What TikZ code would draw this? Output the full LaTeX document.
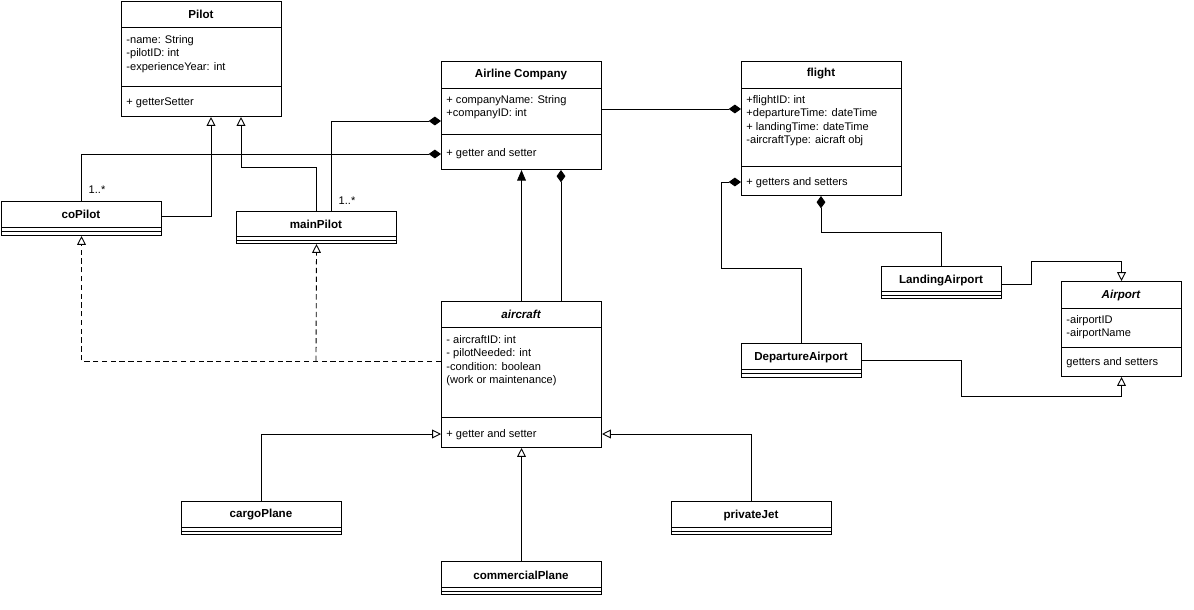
\documentclass[tikz,border=0pt]{standalone}
\usepackage{fontspec}
\setmainfont{Liberation Sans}
\usetikzlibrary{arrows.meta}
\tikzset{
	cls/.style={draw, fill=white, anchor=north west, inner sep=0pt, line width=0.6pt},
	ttl/.style={font=\fontsize{6.6}{8}\selectfont\bfseries},
	txt/.style={font=\fontsize{6.3}{7.6}\selectfont, anchor=north west, align=left, inner sep=0pt},
	inh/.style={-{Triangle[open,length=5pt,width=5pt]}},
	dep/.style={densely dashed,-{Triangle[open,length=5pt,width=5pt]}},
	comp/.style={-{Diamond[length=7pt,width=5pt]}},
	gen/.style={-{Triangle[length=6pt,width=5pt]}}
}
\begin{document}
\begin{tikzpicture}[x=0.02cm,y=-0.02cm,line width=0.5pt]
	\useasboundingbox (0,0) rectangle (1194,609);
	% classes
	\node[cls, minimum width=3.2cm, minimum height=2.3cm](Pilot) at (121,1) {};
	\node[ttl] at (201,14) {Pilot};
	\draw (121,27) -- (281,27); \draw (121,86) -- (281,86);
	\node[txt] at (126,35) {-name: String\\-pilotID: int\\-experienceYear: int};
	\node[txt] at (126,97) {+ getterSetter};

	\node[cls, minimum width=3.2cm, minimum height=2.16cm](airline) at (441,61) {};
	\node[ttl] at (521,74) {Airline Company};
	\draw (441,88) -- (601,88); \draw (441,134) -- (601,134);
	\node[txt] at (446,95) {+ companyName: String\\+companyID: int};
	\node[txt] at (446,148) {+ getter and setter};

	\node[cls, minimum width=3.2cm, minimum height=2.68cm](flight) at (741,61) {};
	\node[ttl] at (821,74) {flight};
	\draw (741,88) -- (901,88); \draw (741,166) -- (901,166);
	\node[txt] at (746,95) {+flightID: int\\+departureTime: dateTime\\+ landingTime: dateTime\\-aircraftType: aicraft obj};
	\node[txt] at (746,177) {+ getters and setters};

	\node[cls, minimum width=3.2cm, minimum height=0.68cm](coPilot) at (1,201) {};
	\node[ttl] at (81,214) {coPilot};
	\draw (1,227) -- (161,227); \draw (1,231) -- (161,231);

	\node[cls, minimum width=3.2cm, minimum height=0.64cm](mainPilot) at (236,211) {};
	\node[ttl] at (316,224) {mainPilot};
	\draw (236,236) -- (396,236); \draw (236,240) -- (396,240);

	\node[cls, minimum width=3.2cm, minimum height=2.92cm](aircraft) at (441,301) {};
	\node[ttl] at (521,314) {\itshape aircraft};
	\draw (441,327) -- (601,327); \draw (441,417) -- (601,417);
	\node[txt] at (446,335) {- aircraftID: int\\- pilotNeeded: int\\-condition: boolean\\(work or maintenance)};
	\node[txt] at (446,429) {+ getter and setter};

	\node[cls, minimum width=2.4cm, minimum height=0.64cm](landing) at (881,266) {};
	\node[ttl] at (941,281) {LandingAirport};
	\draw (881,291) -- (1001,291); \draw (881,295) -- (1001,295);

	\node[cls, minimum width=2.4cm, minimum height=1.9cm](Airport) at (1061,281) {};
	\node[ttl] at (1121,295) {\itshape Airport};
	\draw (1061,308) -- (1181,308); \draw (1061,347) -- (1181,347);
	\node[txt] at (1066,315) {-airportID\\-airportName};
	\node[txt] at (1066,357) {getters and setters};

	\node[cls, minimum width=2.4cm, minimum height=0.68cm](departure) at (741,343) {};
	\node[ttl] at (801,357) {DepartureAirport};
	\draw (741,369) -- (861,369); \draw (741,373) -- (861,373);

	\node[cls, minimum width=3.2cm, minimum height=0.66cm](cargo) at (181,501) {};
	\node[ttl] at (261,515) {cargoPlane};
	\draw (181,527) -- (341,527); \draw (181,531) -- (341,531);

	\node[cls, minimum width=3.2cm, minimum height=0.66cm](jet) at (671,501) {};
	\node[ttl] at (751,515) {privateJet};
	\draw (671,527) -- (831,527); \draw (671,531) -- (831,531);

	\node[cls, minimum width=3.2cm, minimum height=0.66cm](commercial) at (441,561) {};
	\node[ttl] at (521,575) {commercialPlane};
	\draw (441,587) -- (601,587); \draw (441,591) -- (601,591);

	% connectors
	\draw[inh] (coPilot.east |- 0,216) -| (Pilot.south -| 211,0);
	\draw[inh] (mainPilot.north -| 316,0) |- (241,167) -- (Pilot.south -| 241,0);
	\draw[comp] (coPilot.north) |- (airline.west |- 0,154);
	\draw[comp] (mainPilot.north -| 331,0) |- (airline.west |- 0,121);
	\node[font=\fontsize{6.3}{7.6}\selectfont] at (97,190) {1..*};
	\node[font=\fontsize{6.3}{7.6}\selectfont] at (347,201) {1..*};
	\draw[comp] (airline.east |- 0,109) -- (flight.west |- 0,109);
	\draw[gen] (aircraft.north) -- (airline.south);
	\draw[comp] (aircraft.north -| 561,0) -- (airline.south -| 561,0);
	\draw[comp] (departure.north) |- (721,268) |- (flight.west |- 0,182);
	\draw[comp] (landing.north) |- (821,232) -- (flight.south -| 821,0);
	\draw[inh] (landing.east |- 0,284) -| (1031,261) -| (Airport.north);
	\draw[inh] (departure.east |- 0,360) -| (961,396) -| (Airport.south);
	\draw[dep] (aircraft.west |- 0,361) -| (coPilot.south);
	\draw[dep] (316,361) -- (mainPilot.south);
	\draw[inh] (cargo.north) |- (aircraft.west |- 0,434);
	\draw[inh] (jet.north) |- (aircraft.east |- 0,434);
	\draw[inh] (commercial.north) -- (aircraft.south);
\end{tikzpicture}
\end{document}
